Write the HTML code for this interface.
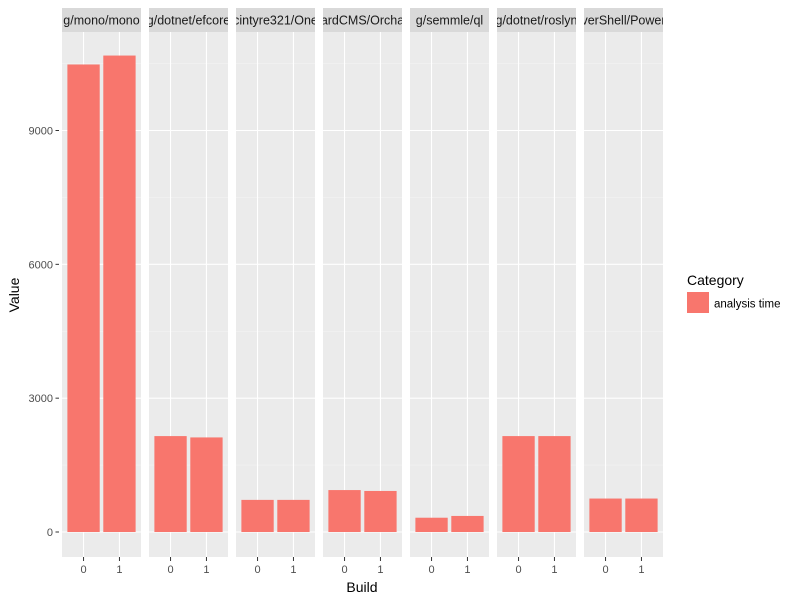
<!DOCTYPE html>
<html><head><meta charset="utf-8"><style>
body{margin:0;background:#fff;font-family:"Liberation Sans",Arial,sans-serif}
svg text{font-family:"Liberation Sans",Arial,sans-serif}
</style></head><body>
<svg id="chart" width="800" height="600">
<text x="362" y="592" font-size="14" text-anchor="middle" fill="#000">Build</text>
<text transform="translate(19,295) rotate(-90)" font-size="14" text-anchor="middle" fill="#000">Value</text>
<g>
<text x="687" y="285" font-size="14" fill="#000">Category</text>
<rect x="687" y="292" width="22" height="21" fill="#F8766D"/>
<text x="714" y="307.5" font-size="11.5" fill="#000">analysis time</text>
</g>
</svg>
<script>
const panels=["github.com/mono/mono","github.com/dotnet/efcore","github.com/dmcintyre321/OneTrue","github.com/OrchardCMS/OrchardCore","github.com/semmle/ql","github.com/dotnet/roslyn","github.com/PowerShell/PowerShell"];
const panelShown=["g/mono/mono","g/dotnet/efcore","cintyre321/One","ardCMS/Orcha","g/semmle/ql","g/dotnet/roslyn","verShell/Power"];
const builds=["0","1"];
const build0=[10480,2150,720,940,320,2150,750];
const build1=[10680,2120,720,920,360,2150,750];
const yTicks=[0,3000,6000,9000];
const NS="http://www.w3.org/2000/svg";
const svg=document.getElementById('chart');
const top0=32,bot=557,zeroY=532,y9000=130.5;
const y=v=>zeroY-(zeroY-y9000)*v/9000;
const px0=62,pw=79,step=87;
const xs=(p,i)=>px0+p*step+(i+1-0.4)*pw/2.2;
function mk(tag,attrs,parent){const e=document.createElementNS(NS,tag);for(const k in attrs)e.setAttribute(k,attrs[k]);(parent||svg).appendChild(e);return e;}
yTicks.forEach(t=>{
 const l=mk('line',{x1:55.5,x2:59,y1:y(t),y2:y(t),stroke:'#333','stroke-width':1});
 
 
 const tx=mk('text',{x:53,y:y(t)+4,'font-size':11,'text-anchor':'end',fill:'#4d4d4d'});
 tx.textContent=t;
 
 
});
panels.forEach((name,p)=>{
 const x0=px0+p*step;
 const g=mk('g',{});
 
 
 mk('rect',{x:x0,y:top0,width:pw,height:bot-top0,fill:'#EBEBEB'},g);
 const minor=[y(1500),y(4500),y(7500),y(10500)];
 minor.forEach(v=>mk('line',{x1:x0,x2:x0+pw,y1:v,y2:v,stroke:'#F4F4F4','stroke-width':0.6},g));
 yTicks.forEach(t=>mk('line',{x1:x0,x2:x0+pw,y1:y(t),y2:y(t),stroke:'#fff','stroke-width':1.1},g));
 builds.forEach((b,i)=>mk('line',{x1:xs(p,i),x2:xs(p,i),y1:top0,y2:bot,stroke:'#fff','stroke-width':1.1},g));
 const vals=[build0[p],build1[p]];
 vals.forEach((v,i)=>{
  const bw=0.9*pw/2.2;
  const r=mk('rect',{x:xs(p,i)-bw/2,y:y(v),width:bw,height:zeroY-y(v),fill:'#F8766D'},g);
  
  
 });
 const s=mk('rect',{x:x0,y:8,width:pw,height:24,fill:'#D9D9D9'},g);
 
 
 const cp=mk('clipPath',{id:'cp'+p},g);
 mk('rect',{x:x0,y:8,width:pw,height:24},cp);
 const st=mk('text',{x:x0+pw/2,y:24.5,'font-size':12.5,'text-anchor':'middle',fill:'#1a1a1a','clip-path':'url(#cp'+p+')'},g);
 st.textContent=panelShown[p];
 
 
 builds.forEach((b,i)=>{
  mk('line',{x1:xs(p,i),x2:xs(p,i),y1:557,y2:561,stroke:'#333','stroke-width':1},g);
  const t=mk('text',{x:xs(p,i),y:573,'font-size':11,'text-anchor':'middle',fill:'#4d4d4d'},g);
  t.textContent=b;
  
  
 });
});
</script>
</body></html>
